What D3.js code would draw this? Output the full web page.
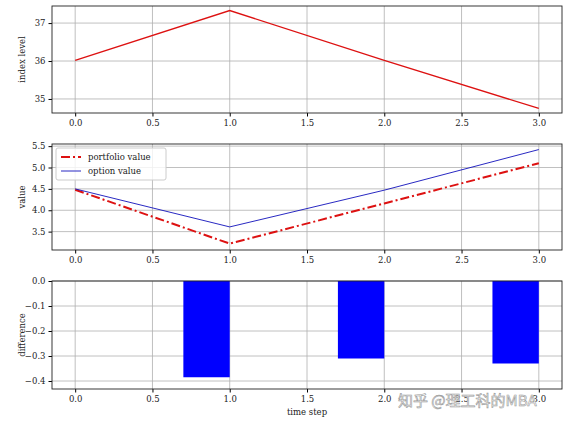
<!DOCTYPE html>
<html><head><meta charset="utf-8">
<script src="https://cdn.jsdelivr.net/npm/d3@7"></script>
<style>
body{margin:0;background:#fff}
text{font-family:"DejaVu Serif",serif;font-size:8.5px;fill:#222}
.grid line{stroke:#b0b0b0;stroke-width:0.8}
</style></head><body>
<svg id="c" width="568" height="424"></svg>
<script>
var steps = [0, 1, 2, 3];
var indexLevel = [36.02, 37.33, 36.02, 34.75];
var portfolioValue = [4.48, 3.22, 4.16, 5.10];
var optionValue = [4.50, 3.61, 4.47, 5.42];
var difference = [-0.385, -0.31, -0.33];
var diffSteps = [1, 2, 3];
var xTicks = [0, 0.5, 1, 1.5, 2, 2.5, 3];

var svg = d3.select('#c');
var left = 52, right = 562;
var x = d3.scaleLinear().domain([-0.15, 3.15]).range([left, right]);

function panel(top, bottom, domain, ticks, fmt, label, xlabel) {
  var y = d3.scaleLinear().domain(domain).range([bottom, top]);
  var g = svg.append('g');
  g.append('g').attr('class', 'grid').selectAll('line').data(xTicks).join('line')
    .attr('x1', x).attr('x2', x).attr('y1', top).attr('y2', bottom);
  g.append('g').attr('class', 'grid').selectAll('line').data(ticks).join('line')
    .attr('x1', left).attr('x2', right).attr('y1', y).attr('y2', y);
  var xa = g.append('g').attr('transform', 'translate(0,' + bottom + ')')
    .call(d3.axisBottom(x).tickValues(xTicks).tickFormat(d3.format('.1f')).tickSizeOuter(0).tickSize(3.5));
  var ya = g.append('g').attr('transform', 'translate(' + left + ',0)')
    .call(d3.axisLeft(y).tickValues(ticks).tickFormat(fmt).tickSizeOuter(0).tickSize(3.5));
  [xa, ya].forEach(function(a) { a.select('.domain').remove(); a.selectAll('text').style('font-family', 'DejaVu Serif').style('font-size', '8.5px'); });
  g.append('text').attr('transform', 'translate(25,' + ((top + bottom) / 2) + ') rotate(-90)')
    .attr('text-anchor', 'middle').text(label);
  if (xlabel) g.append('text').attr('x', (left + right) / 2).attr('y', bottom + 26).attr('text-anchor', 'middle').text(xlabel);
  return { g: g, y: y, top: top, bottom: bottom };
}
function frame(p) {
  p.g.append('rect').attr('x', left).attr('y', p.top).attr('width', right - left).attr('height', p.bottom - p.top)
    .attr('fill', 'none').attr('stroke', '#222').attr('stroke-width', 0.9);
}

// top
var p1 = panel(6, 113, [34.63, 37.45], [35, 36, 37], d3.format('d'), 'index level');
p1.g.append('path').datum(steps).attr('fill', 'none').attr('stroke', '#dd1111').attr('stroke-width', 1.3)
  .attr('d', d3.line().x(function(d) { return x(d); }).y(function(d, i) { return p1.y(indexLevel[i]); }));
frame(p1);

// middle
var p2 = panel(144, 250, [3.07, 5.55], [3.5, 4, 4.5, 5, 5.5], d3.format('.1f'), 'value');
p2.g.append('path').datum(steps).attr('fill', 'none').attr('stroke', '#dd1111').attr('stroke-width', 2)
  .attr('stroke-dasharray', '9,3,2,3')
  .attr('d', d3.line().x(function(d) { return x(d); }).y(function(d, i) { return p2.y(portfolioValue[i]); }));
p2.g.append('path').datum(steps).attr('fill', 'none').attr('stroke', '#1111bb').attr('stroke-width', 0.9)
  .attr('d', d3.line().x(function(d) { return x(d); }).y(function(d, i) { return p2.y(optionValue[i]); }));
var lg = p2.g.append('g').attr('transform', 'translate(56,148)');
lg.append('rect').attr('width', 110).attr('height', 32).attr('rx', 2).attr('fill', '#fff').attr('fill-opacity', 0.8).attr('stroke', '#ccc');
lg.append('line').attr('x1', 5).attr('x2', 25).attr('y1', 9).attr('y2', 9).attr('stroke', '#dd1111').attr('stroke-width', 2).attr('stroke-dasharray', '9,3,2,3');
lg.append('line').attr('x1', 5).attr('x2', 25).attr('y1', 23).attr('y2', 23).attr('stroke', '#1111bb').attr('stroke-width', 0.9);
lg.append('text').attr('x', 32).attr('y', 12).text('portfolio value');
lg.append('text').attr('x', 32).attr('y', 26).text('option value');
frame(p2);

// bottom
var p3 = panel(281, 389, [-0.432, 0], [-0.4, -0.3, -0.2, -0.1, 0], d3.format('.1f'), 'difference', 'time step');
p3.g.selectAll('rect.bar').data(difference).join('rect').attr('class', 'bar')
  .attr('x', function(d, i) { return x(diffSteps[i] - 0.3); })
  .attr('width', function(d, i) { return x(diffSteps[i]) - x(diffSteps[i] - 0.3); })
  .attr('y', p3.y(0)).attr('height', function(d) { return p3.y(d) - p3.y(0); })
  .attr('fill', '#0000ff');
frame(p3);

svg.append('text').attr('x', 398).attr('y', 406).style('font-family', 'Noto Sans CJK SC').style('font-size', '15px')
  .style('fill', '#ffffff').style('stroke', '#999').style('stroke-width', 0.6).text('知乎 @理工科的MBA');
</script></body></html>
